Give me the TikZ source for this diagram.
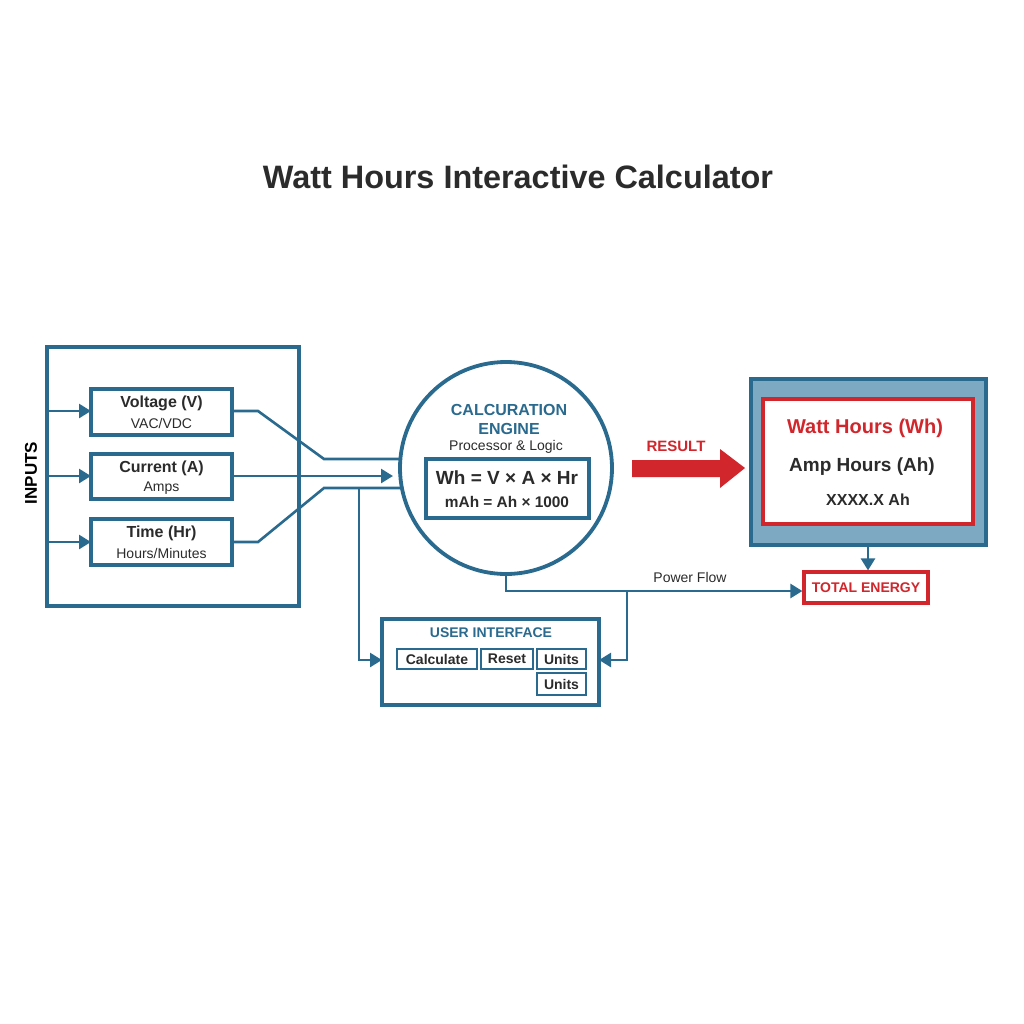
\documentclass[tikz,border=0pt]{standalone}
\usepackage{fontspec}
\setmainfont{Liberation Sans}
\usetikzlibrary{arrows.meta,shapes.geometric}
\definecolor{sblue}{HTML}{2A6A8E}
\definecolor{rred}{HTML}{D0262C}
\definecolor{lblue}{HTML}{7EA9C3}
\definecolor{dtext}{HTML}{2B2B2B}
\tikzset{
  wire/.style={draw=sblue, line width=1.3pt},
  arr/.style={wire, -{Triangle[length=6pt,width=7pt]}},
  inbox/.style={draw=sblue, line width=1.9pt, fill=white},
  btn/.style={draw=sblue, line width=1pt, fill=white, inner sep=0pt, font=\fontsize{7}{8}\selectfont\bfseries, text=dtext},
}
\begin{document}
\begin{tikzpicture}[x=0.5pt,y=-0.5pt]
\useasboundingbox[fill=white] (0,0) rectangle (1024,1024);
% title
\node[font=\fontsize{16.2}{19}\selectfont\bfseries, text=dtext] (title) at (518,177) {Watt Hours Interactive Calculator};

% inputs group
\draw[draw=sblue, line width=2pt] (47,347) rectangle (299,606);
\coordinate (gl1) at (47,411);
\coordinate (gl2) at (47,476);
\coordinate (gl3) at (47,542);
\node[rotate=90, font=\fontsize{8.5}{9}\selectfont\bfseries, text=black] (inputs) at (31,473) {INPUTS};

\path[inbox] (91,389) rectangle (232,435);
\node[font=\fontsize{8}{9}\selectfont\bfseries, text=dtext] (v1) at (161.5,403) {Voltage (V)};
\node[font=\fontsize{7}{8}\selectfont, text=dtext] (v2) at (161.5,423) {VAC/VDC};
\coordinate (vl) at (91,411); \coordinate (vr) at (232,411);

\path[inbox] (91,454) rectangle (232,499);
\node[font=\fontsize{8}{9}\selectfont\bfseries, text=dtext] (c1) at (161.5,468) {Current (A)};
\node[font=\fontsize{7}{8}\selectfont, text=dtext] (c2) at (161.5,488) {Amps};
\coordinate (cl) at (91,476); \coordinate (cr) at (232,476);

\path[inbox] (91,519) rectangle (232,565);
\node[font=\fontsize{8}{9}\selectfont\bfseries, text=dtext] (t1) at (161.5,533) {Time (Hr)};
\node[font=\fontsize{7}{8}\selectfont, text=dtext] (t2) at (161.5,553) {Hours/Minutes};
\coordinate (tl) at (91,542); \coordinate (tr) at (232,542);

\draw[arr] (gl1) -- (vl);
\draw[arr] (gl2) -- (cl);
\draw[arr] (gl3) -- (tl);

% engine circle
\node[circle, draw=sblue, line width=1.9pt, minimum size=212*0.5pt, inner sep=0pt, fill=white] (eng) at (506,468) {};
\node[font=\fontsize{8}{9}\selectfont\bfseries, text=sblue] (engt1) at (509,410) {CALCURATION};
\node[font=\fontsize{8}{9}\selectfont\bfseries, text=sblue] (engt2) at (509,429) {ENGINE};
\node[font=\fontsize{7}{8}\selectfont, text=dtext] (proc) at (506,447) {Processor \& Logic};
\draw[draw=sblue, line width=1.9pt, fill=white] (426,459) rectangle (589,518);
\node[font=\fontsize{9.5}{11}\selectfont\bfseries, text=dtext] (f1) at (507,478) {Wh = V × A × Hr};
\node[font=\fontsize{7.7}{9}\selectfont\bfseries, text=dtext] (f2) at (507,502) {mAh = Ah × 1000};

% input wires to engine
\coordinate (e1) at (400,459);
\coordinate (e2) at (393,476);
\coordinate (e3) at (400,488);
\draw[wire] (vr) -- (258,411) -- (324,459) -- (e1);
\draw[arr] (cr) -- (e2);
\draw[wire] (tr) -- (258,542) -- (324,488) -- (e3);

% result arrow
\node[font=\fontsize{7.5}{9}\selectfont\bfseries, text=rred] (reslbl) at (676,446) {RESULT};
\fill[rred] (632,460) -- (720,460) -- (720,449) -- (745,468) -- (720,488) -- (720,477) -- (632,477) -- cycle;

% result display
\draw[draw=sblue, line width=1.9pt, fill=lblue] (751,379) rectangle (986,545);
\draw[draw=rred, line width=1.9pt, fill=white] (763,399) rectangle (973,524);
\node[font=\fontsize{10}{12}\selectfont\bfseries, text=rred] (wh) at (865,428) {Watt Hours (Wh)};
\node[font=\fontsize{9.5}{11}\selectfont\bfseries, text=dtext] (ah) at (862,467) {Amp Hours (Ah)};
\node[font=\fontsize{8}{9}\selectfont\bfseries, text=dtext] (xx) at (868,500) {XXXX.X Ah};
\coordinate (resb) at (868,545);

% total energy
\node[draw=rred, line width=1.6pt, fill=white, minimum width=124*0.5pt, minimum height=31*0.5pt, inner sep=0pt, font=\fontsize{7}{8}\selectfont\bfseries, text=rred] (tot) at (866,587.5) {TOTAL ENERGY};
\draw[arr] (resb) -- (resb |- tot.north);

% power flow
\coordinate (pf1) at (506,591);
\coordinate (pfb) at (627,591);
\draw[arr] (eng.south) -- (pf1) -- (tot.west |- pf1);
\node[font=\fontsize{7}{8}\selectfont, text=dtext] (pflbl) at (690,577) {Power Flow};

% user interface
\draw[draw=sblue, line width=1.9pt, fill=white] (382,619) rectangle (599,705);
\coordinate (uil) at (382,660); \coordinate (uir) at (599,660);
\node[font=\fontsize{7}{8}\selectfont\bfseries, text=sblue] (uit) at (491,633) {USER INTERFACE};
\node[btn, minimum width=80*0.5pt, minimum height=20*0.5pt] (b1) at (437,659) {Calculate};
\node[btn, minimum width=52*0.5pt, minimum height=20*0.5pt] (b2) at (507,659) {Reset};
\node[btn, minimum width=49*0.5pt, minimum height=20*0.5pt] (b3) at (561.5,659) {Units};
\node[btn, minimum width=49*0.5pt, minimum height=22*0.5pt] (b4) at (561.5,684) {Units};

\coordinate (br1) at (359,488);
\draw[arr] (br1) -- (359,660) -- (uil);
\draw[arr] (pfb) -- (627,660) -- (uir);
\end{tikzpicture}
\end{document}
